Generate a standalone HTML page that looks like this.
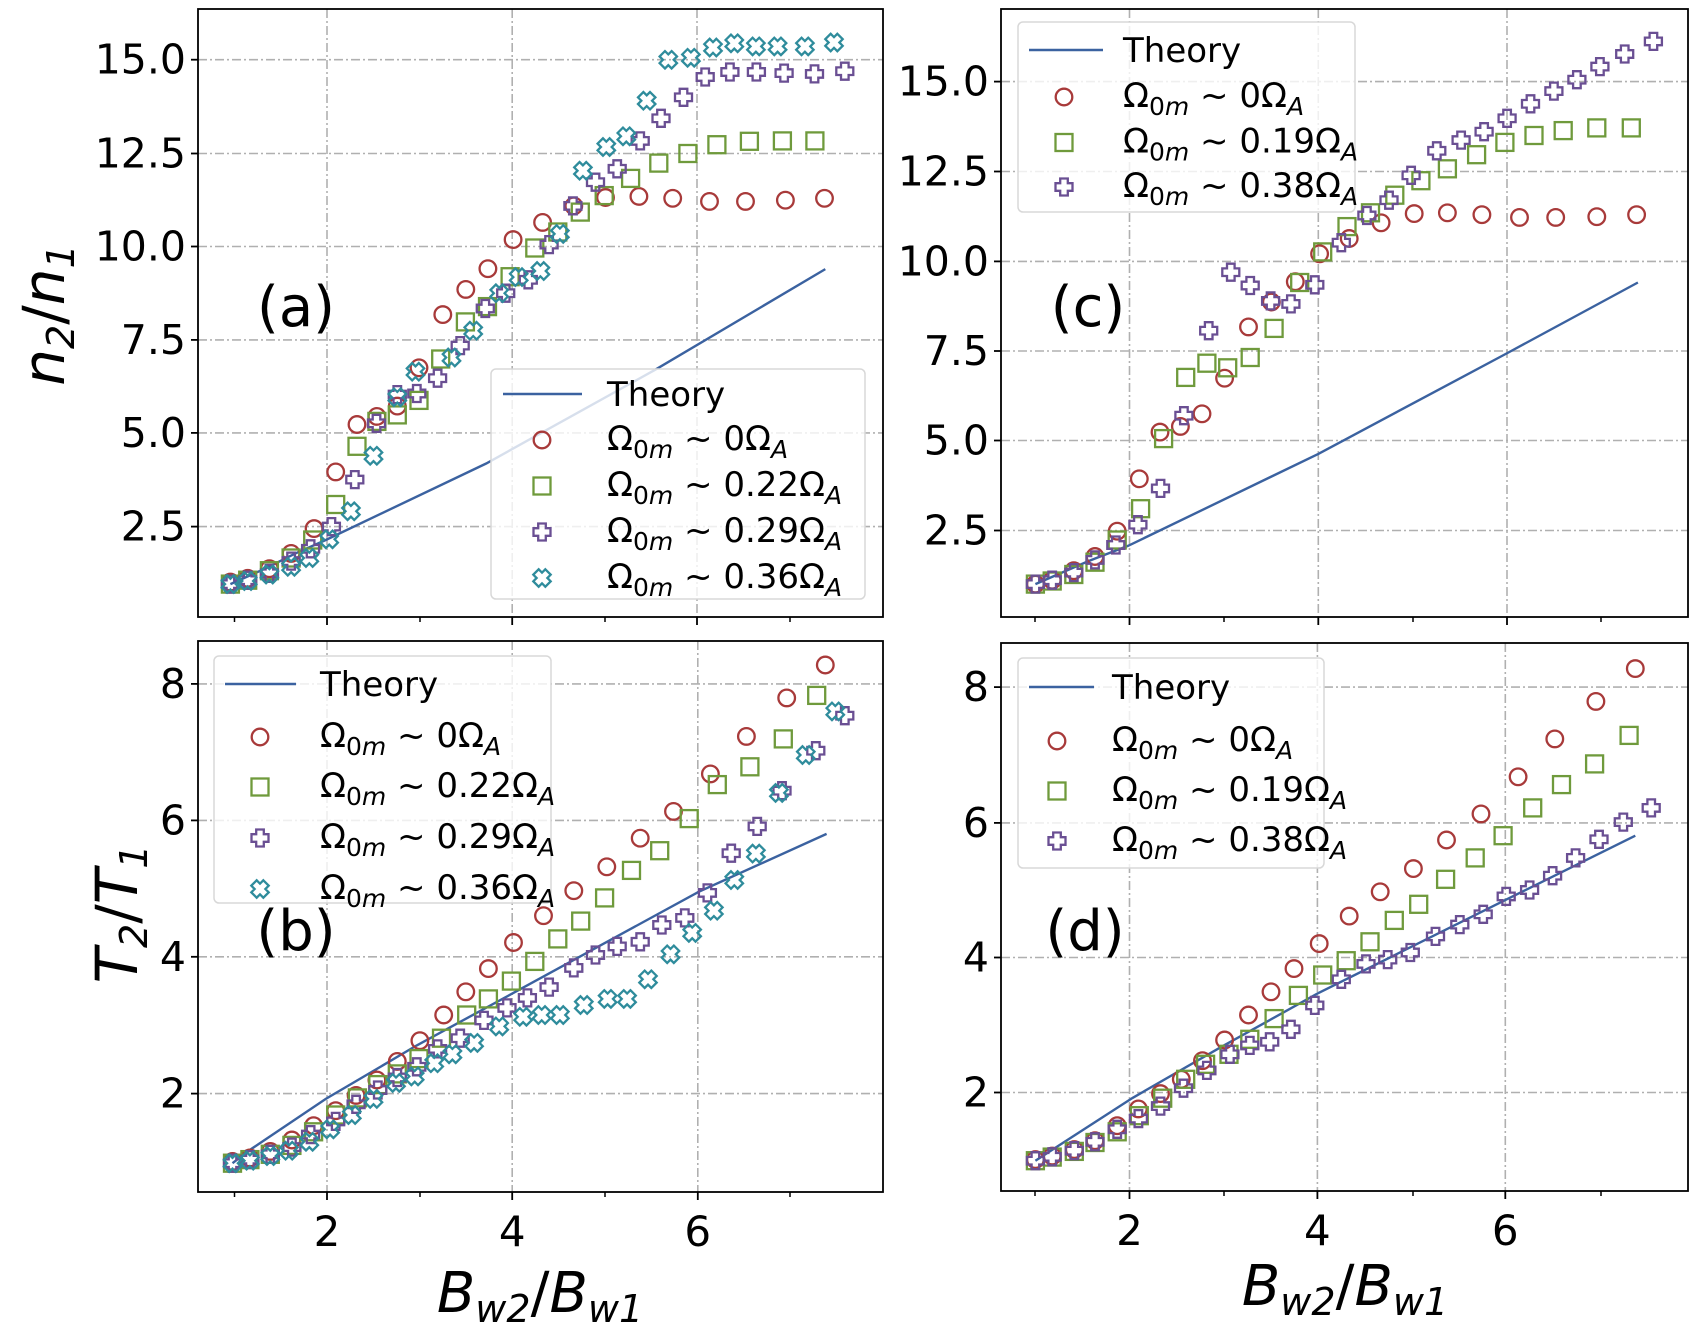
<!DOCTYPE html>
<html><head><meta charset="utf-8"><style>
html,body{margin:0;padding:0;background:#fff}
svg{display:block}
text{font-family:"DejaVu Sans","Liberation Sans",sans-serif;fill:#000}
</style></head><body>
<svg id="s" width="1700" height="1331" viewBox="0 0 1700 1331" xmlns="http://www.w3.org/2000/svg"></svg>
<script>
const S=document.getElementById('s');let h='';
const C={r:'#a83a3a',g:'#6f9a3c',p:'#6a4f93',t:'#2f8c9c',l:'#3b62a0'};
const Z={a:{ox:200,oy:10,fx:2.306,fy:2.613},c:{ox:1000,oy:10,fx:2.262,fy:2.613},b:{ox:200,oy:640,fx:2.306,fy:2.8},d:{ox:1000,oy:640,fx:2.262,fy:2.8}};
function tr(k,pts){const z=Z[k];return pts.map(p=>[z.ox+p[0]/z.fx,z.oy+p[1]/z.fy]);}
function plusPath(x,y,rot){const a=3.8,b=8.5;let pts=[[-a,-b],[a,-b],[a,-a],[b,-a],[b,a],[a,a],[a,b],[-a,b],[-a,a],[-b,a],[-b,-a],[-a,-a]];
return `<polygon points="${pts.map(p=>(p[0]).toFixed(1)+','+(p[1]).toFixed(1)).join(' ')}" transform="translate(${x.toFixed(1)},${y.toFixed(1)}) rotate(${rot})" fill="none" stroke-width="2.3" stroke-linejoin="miter"`;}
function mk(t,x,y){
 if(t=='o')return `<circle cx="${x.toFixed(1)}" cy="${y.toFixed(1)}" r="8.3" fill="none" stroke="${C.r}" stroke-width="2.3"/>`;
 if(t=='s')return `<rect x="${(x-8.5).toFixed(1)}" y="${(y-8.5).toFixed(1)}" width="17" height="17" fill="none" stroke="${C.g}" stroke-width="2.3"/>`;
 if(t=='p')return plusPath(x,y,0)+` stroke="${C.p}"/>`;
 return plusPath(x,y,45)+` stroke="${C.t}"/>`;
}
function series(k,t,pts){tr(k,pts).forEach(p=>h+=mk(t,p[0],p[1]));}
function line(k,pts){h+=`<polyline points="${tr(k,pts).map(p=>p[0].toFixed(1)+','+p[1].toFixed(1)).join(' ')}" fill="none" stroke="${C.l}" stroke-width="2.4"/>`;}
const G='stroke="#b0b0b0" stroke-width="1.6" stroke-dasharray="9,3,2,3"';
function panel(x0,y0,x1,y1,xg,yg,ylab,minor,showX){
 xg.forEach(x=>h+=`<line x1="${x}" y1="${y0}" x2="${x}" y2="${y1}" ${G}/>`);
 yg.forEach((y,i)=>{h+=`<line x1="${x0}" y1="${y}" x2="${x1}" y2="${y}" ${G}/>`;
  h+=`<line x1="${x0-7}" y1="${y}" x2="${x0}" y2="${y}" stroke="#000" stroke-width="1.8"/>`;
  h+=`<text x="${x0-12}" y="${y+14}" font-size="41" text-anchor="end">${ylab[i]}</text>`;});
 xg.forEach(x=>h+=`<line x1="${x}" y1="${y1}" x2="${x}" y2="${y1+8}" stroke="#000" stroke-width="1.8"/>`);
 minor.forEach(x=>h+=`<line x1="${x}" y1="${y1}" x2="${x}" y2="${y1+5}" stroke="#000" stroke-width="1.5"/>`);
 if(showX)xg.forEach((x,i)=>h+=`<text x="${x}" y="${y1+54}" font-size="42" text-anchor="middle">${[2,4,6][i]}</text>`);
}
function frame(x0,y0,x1,y1){h+=`<rect x="${x0}" y="${y0}" width="${x1-x0}" height="${y1-y0}" fill="none" stroke="#000" stroke-width="1.8"/>`;}
function om(v){return `Ω<tspan font-size="25" dy="8">0</tspan><tspan font-size="25" font-style="italic">m</tspan><tspan dy="-8"> ~ ${v}Ω</tspan><tspan font-size="25" dy="8" font-style="italic">A</tspan>`;}
function legend(bx,by,bw,bh,lx0,lx1,mx,tx,rows,items,fs){
 h+=`<rect x="${bx}" y="${by}" width="${bw}" height="${bh}" rx="5" fill="#fff" fill-opacity="0.8" stroke="#d8d8d8" stroke-width="1.5"/>`;
 h+=`<line x1="${lx0}" y1="${rows[0]}" x2="${lx1}" y2="${rows[0]}" stroke="${C.l}" stroke-width="2.6"/>`;
 h+=`<text x="${tx}" y="${rows[0]+12}" font-size="${fs}">Theory</text>`;
 items.forEach((it,i)=>{h+=mk(it[0],mx,rows[i+1]);h+=`<text x="${tx}" y="${rows[i+1]+10}" font-size="${fs}">${om(it[1])}</text>`;});
}
panel(198,9,883,617,[327,512.2,697],[59.7,153.5,246.5,339.9,432.9,526.6],['15.0','12.5','10.0','7.5','5.0','2.5'],[234.5,420,605,790],false);
panel(1001,9,1688,617,[1129.5,1318.3,1507],[81.6,171.5,261.4,351,440.5,530.5],['15.0','12.5','10.0','7.5','5.0','2.5'],[1035,1224,1413,1601],false);
panel(198,641,883,1192,[327,512.2,697.8],[683.9,820.4,956.8,1093.6],['8','6','4','2'],[234.5,420,605,790],true);
panel(1001,643,1688,1191,[1129.5,1317.4,1505.3],[687.1,822.9,957.5,1092.5],['8','6','4','2'],[1035,1224,1413,1601],true);

line('a',[[70,1500],[150,1460],[220,1420],[290,1385],[660,1185],[1050,940],[1442,677]]);
series('a','o',[[70,1495],[110,1485],[160,1460],[210,1420],[263,1355],[313,1207],[362,1083],[408,1062],[455,1035],[505,935],[560,796],[613,730],[664,676],[722,600],[790,555],[862,512],[935,490],[1012,487],[1090,492],[1175,500],[1258,500],[1350,497],[1440,492]]);
series('a','s',[[70,1500],[110,1490],[160,1465],[210,1432],[260,1385],[313,1292],[362,1140],[408,1075],[455,1058],[505,1020],[555,912],[612,815],[663,775],[715,697],[772,622],[825,580],[877,528],[932,485],[993,440],[1058,400],[1125,375],[1192,352],[1267,343],[1343,342],[1418,342]]);
series('a','p',[[70,1500],[110,1490],[160,1472],[210,1440],[255,1408],[303,1350],[357,1227],[407,1080],[455,1005],[500,1002],[548,962],[600,877],[658,780],[705,740],[757,705],[805,613],[860,512],[912,450],[962,415],[1015,342],[1063,283],[1115,228],[1165,175],[1222,162],[1283,162],[1347,165],[1417,167],[1487,160]]);
series('a','x',[[70,1500],[110,1492],[160,1475],[210,1455],[252,1432],[298,1383],[348,1310],[400,1165],[455,1012],[497,945],[580,908],[630,838],[690,740],[735,698],[785,682],[830,585],[883,420],[937,358],[983,330],[1030,237],[1080,130],[1132,125],[1183,98],[1232,87],[1282,95],[1332,95],[1395,95],[1462,85]]);
line('c',[[80,1500],[200,1440],[290,1400],[720,1160],[1150,895],[1443,712]]);
series('c','o',[[80,1500],[118,1490],[167,1465],[215,1428],[265,1362],[315,1225],[362,1103],[408,1088],[457,1055],[508,962],[562,828],[614,763],[668,710],[723,637],[790,597],[862,556],[937,532],[1012,530],[1090,535],[1175,542],[1257,542],[1350,540],[1440,535]]);
series('c','s',[[80,1500],[118,1492],[167,1475],[215,1443],[265,1385],[318,1303],[370,1120],[420,960],[468,923],[515,935],[566,908],[620,832],[678,712],[730,632],[785,566],[838,530],[893,484],[952,446],[1012,415],[1078,378],[1142,346],[1208,328],[1274,315],[1350,308],[1428,308]]);
series('c','p',[[80,1500],[118,1490],[167,1470],[215,1437],[262,1398],[312,1345],[363,1250],[416,1060],[472,838],[522,685],[566,720],[612,760],[658,768],[712,718],[772,608],[830,537],[880,497],[930,432],[988,368],[1043,340],[1095,318],[1147,283],[1200,245],[1253,212],[1305,182],[1357,148],[1413,115],[1478,82]]);
line('b',[[75,1465],[110,1432],[290,1285],[500,1135],[720,990],[1150,705],[1445,543]]);
series('b','o',[[75,1460],[115,1450],[162,1432],[212,1400],[262,1360],[313,1318],[360,1275],[408,1232],[455,1180],[507,1122],[562,1050],[613,985],[665,920],[723,847],[792,772],[862,702],[938,635],[1015,555],[1092,480],[1177,375],[1260,270],[1353,162],[1442,70]]);
series('b','s',[[75,1465],[115,1455],[162,1440],[212,1415],[262,1377],[313,1330],[363,1282],[410,1245],[455,1215],[505,1172],[557,1115],[615,1050],[665,1005],[718,955],[772,900],[825,837],[878,787],[933,722],[995,645],[1060,590],[1128,500],[1193,405],[1268,355],[1345,277],[1422,155]]);
series('b','p',[[75,1465],[115,1455],[162,1440],[212,1420],[255,1385],[313,1348],[360,1300],[410,1260],[455,1225],[500,1195],[548,1145],[600,1115],[655,1065],[708,1030],[755,1002],[805,972],[862,918],[912,882],[962,858],[1015,845],[1065,798],[1118,778],[1170,708],[1225,597],[1285,522],[1342,422],[1420,310],[1487,212]]);
series('b','x',[[75,1465],[115,1458],[162,1445],[205,1430],[252,1405],[300,1370],[350,1330],[400,1285],[452,1240],[495,1222],[540,1185],[582,1160],[632,1128],[690,1082],[745,1055],[788,1050],[830,1050],[885,1022],[940,1005],[985,1005],[1033,950],[1085,880],[1135,820],[1185,758],[1232,672],[1282,598],[1335,428],[1397,322],[1465,200]]);
line('d',[[80,1458],[115,1430],[300,1282],[500,1140],[718,990],[1140,730],[1437,548]]);
series('d','o',[[80,1455],[118,1445],[168,1427],[215,1402],[265,1360],[313,1313],[363,1270],[410,1230],[458,1178],[508,1120],[562,1050],[613,985],[665,920],[722,850],[790,773],[860,705],[935,640],[1010,560],[1088,487],[1172,383],[1255,277],[1348,172],[1437,80]]);
series('d','s',[[80,1458],[118,1448],[168,1432],[215,1407],[265,1377],[315,1332],[368,1283],[420,1230],[465,1188],[518,1160],[565,1118],[620,1060],[675,995],[730,938],[783,898],[837,845],[892,785],[947,740],[1008,670],[1075,610],[1138,548],[1205,470],[1270,405],[1345,347],[1423,267]]);
series('d','p',[[80,1458],[118,1447],[168,1430],[215,1405],[265,1370],[313,1340],[363,1305],[415,1255],[468,1205],[520,1160],[565,1135],[610,1125],[658,1090],[712,1023],[772,950],[828,907],[877,895],[928,875],[985,830],[1040,797],[1093,768],[1145,718],[1198,700],[1250,660],[1302,610],[1355,558],[1410,510],[1473,470]]);

legend(491,369,374,230,503,582,542,607,[394,440,486,532,578],[['o','0'],['s','0.22'],['p','0.29'],['x','0.36']],34);
legend(214,656,337,247,225,296,260,320,[684,737,787,838,889],[['o','0'],['s','0.22'],['p','0.29'],['x','0.36']],34);
legend(1018,22,337,190,1029,1103,1064,1123,[50,97,142.5,187],[['o','0'],['s','0.19'],['p','0.38']],34);
legend(1018,658,306,210,1029,1094,1057,1112,[687,741,791,841],[['o','0'],['s','0.19'],['p','0.38']],34);

frame(198,9,883,617);frame(1001,9,1688,617);frame(198,641,883,1192);frame(1001,643,1688,1191);

[['(a)',296,326],['(b)',296,950],['(c)',1088,326],['(d)',1085,950]].forEach(t=>h+=`<text x="${t[1]}" y="${t[2]}" font-size="56" text-anchor="middle">${t[0]}</text>`);
function frac(a,as,b,bs){return `<tspan font-style="italic">${a}</tspan><tspan font-size="38" dy="10" font-style="italic">${as}</tspan><tspan dy="-10">/</tspan><tspan font-style="italic">${b}</tspan><tspan font-size="38" dy="10" font-style="italic">${bs}</tspan>`;}
h+=`<text x="540" y="1312" font-size="56" text-anchor="middle">${frac('B','w2','B','w1')}</text>`;
h+=`<text x="1345" y="1305" font-size="56" text-anchor="middle">${frac('B','w2','B','w1')}</text>`;
h+=`<text transform="translate(64,315) rotate(-90)" font-size="58" text-anchor="middle">${frac('n','2','n','1')}</text>`;
h+=`<text transform="translate(137,914) rotate(-90)" font-size="58" text-anchor="middle">${frac('T','2','T','1')}</text>`;
S.innerHTML=h;
</script>
</body></html>
